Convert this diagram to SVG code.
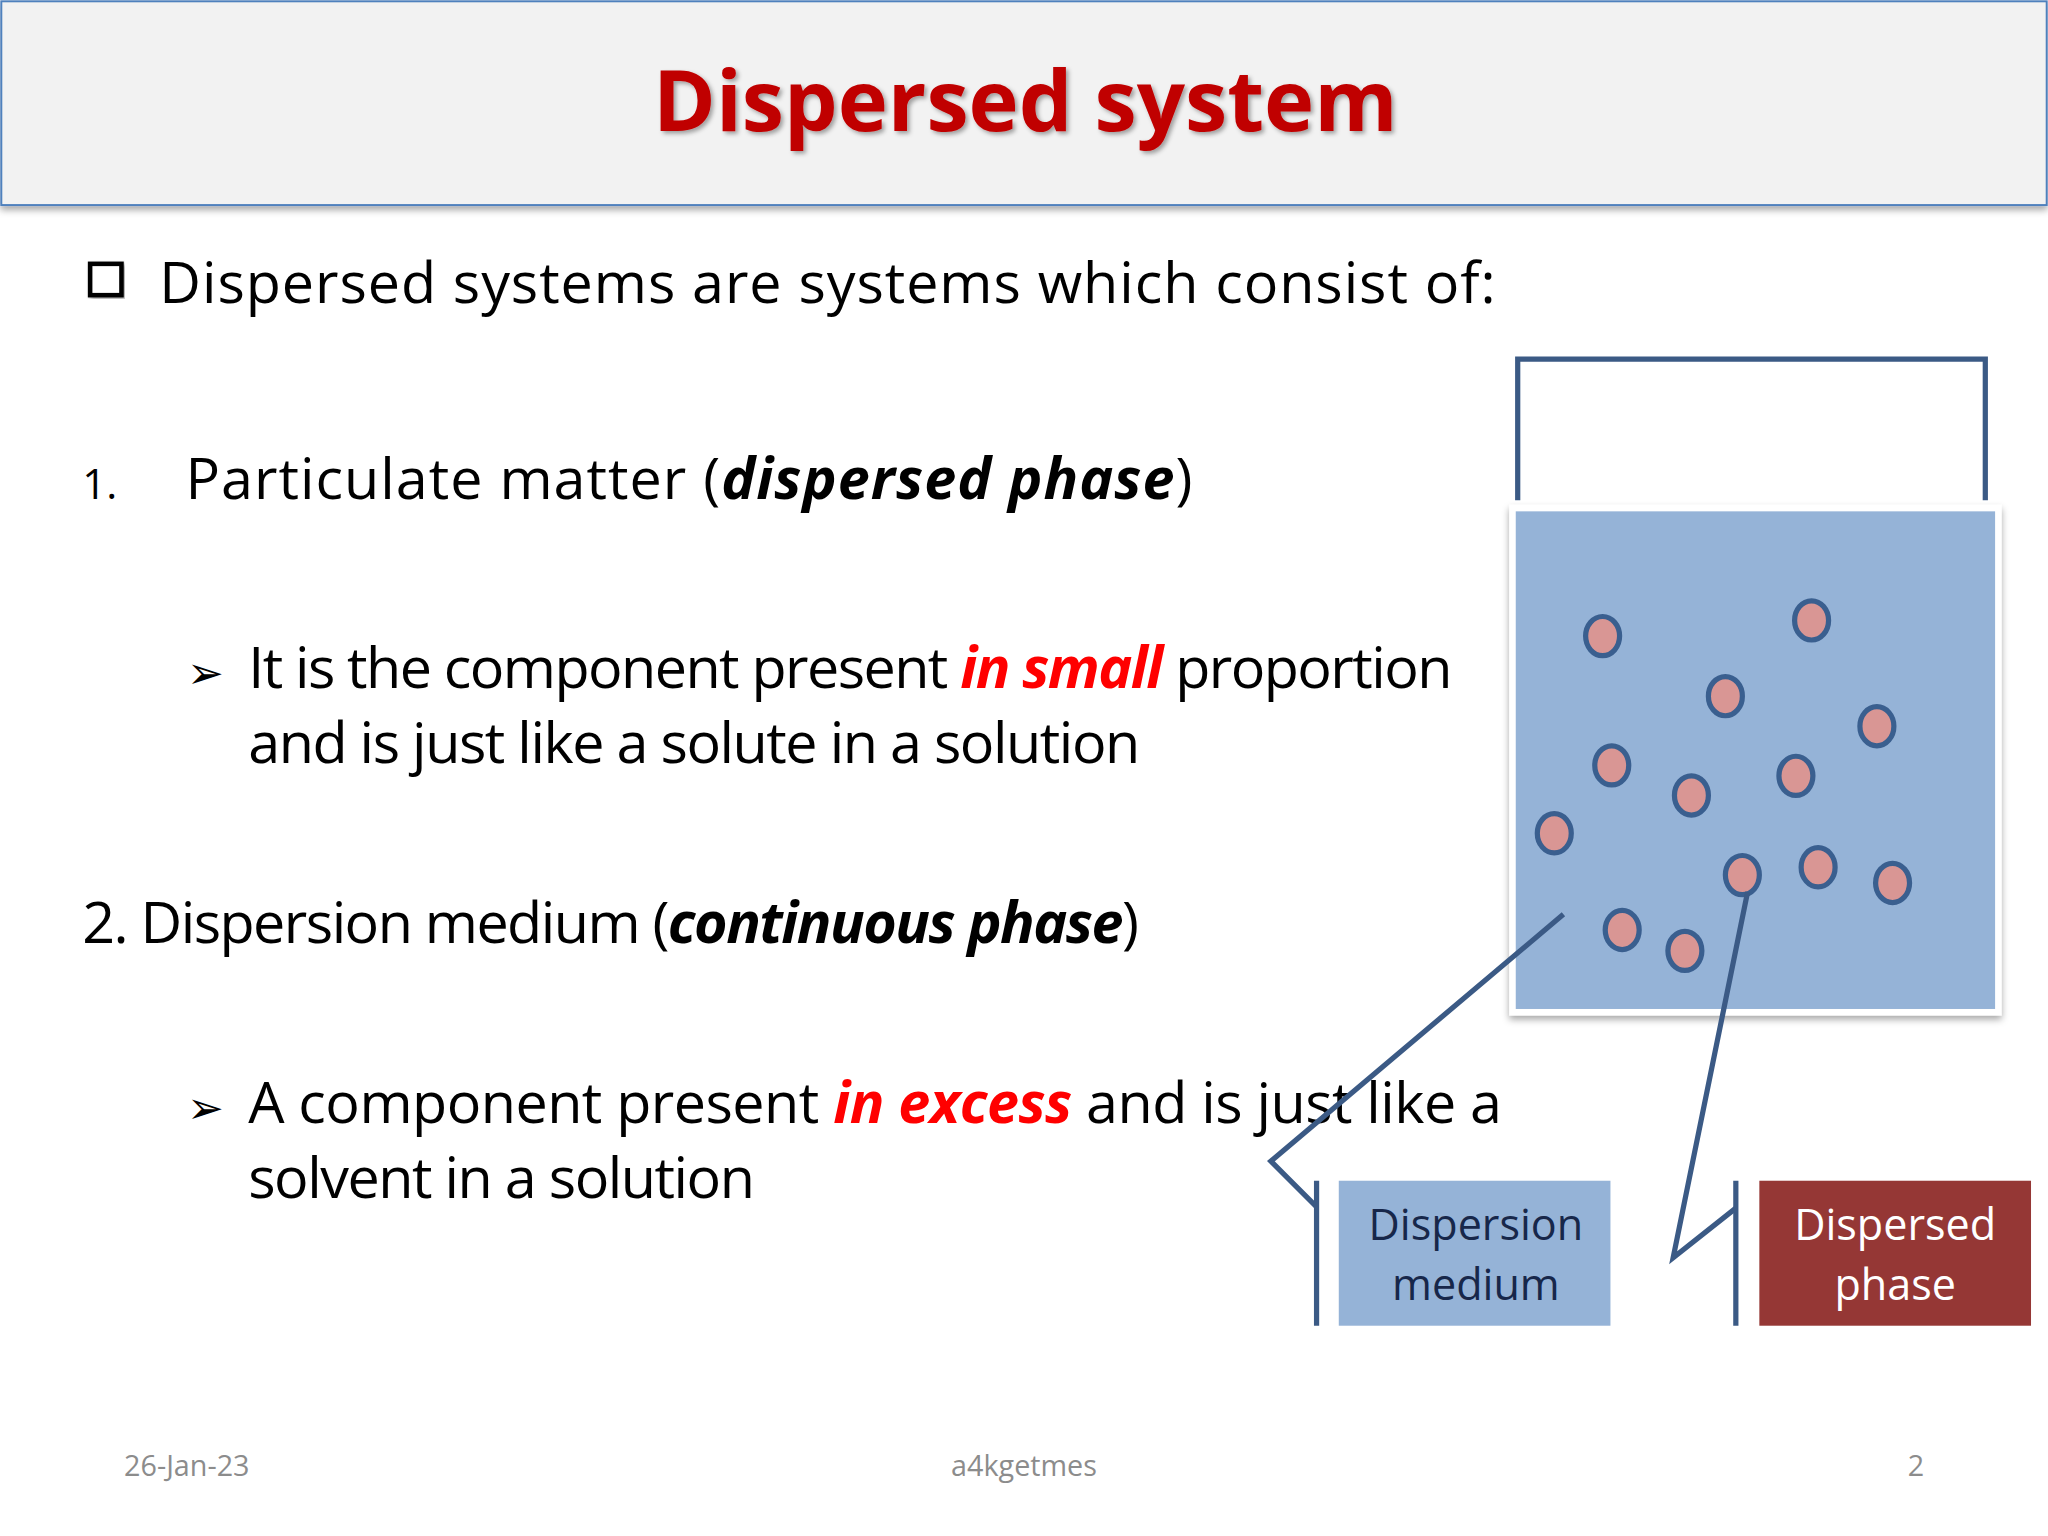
<svg xmlns="http://www.w3.org/2000/svg" width="2048" height="1536" viewBox="0 0 2048 1536">
<defs>
<style>
.t{font-family:"Open Sans","Noto Sans",sans-serif;font-size:44px;fill:#000}
.b{font-weight:bold;font-style:italic}
.r{fill:#ff0000}
.f{font-family:"Open Sans",sans-serif;font-size:22px;fill:#8c8c8c}
.p{fill:#d99694;stroke:#3a5f8f;stroke-width:4}
.ln{fill:none;stroke:#3b5a85;stroke-width:4}
.lb{font-family:"Open Sans",sans-serif;font-size:33px;text-anchor:middle}
</style>
<filter id="sh" x="-5%" y="-5%" width="110%" height="115%"><feDropShadow dx="0" dy="3" stdDeviation="3" flood-color="#000" flood-opacity="0.35"/></filter>
<filter id="ts"><feDropShadow dx="2" dy="2" stdDeviation="1.5" flood-color="#000" flood-opacity="0.35"/></filter>
</defs>
<rect width="2048" height="1536" fill="#fff"/>
<g transform="scale(1.30612)">
<g id="header">
<rect x="1" y="1" width="1566" height="156" fill="#f2f2f2" stroke="#4f81bd" stroke-width="1.5" filter="url(#sh)"/>
<text x="785" y="100" text-anchor="middle" font-family="'Open Sans',sans-serif" font-weight="bold" font-size="64" fill="#c00000" filter="url(#ts)" textLength="570" lengthAdjust="spacingAndGlyphs">Dispersed system</text>
</g>
<g id="text">
<rect x="69" y="202" width="24" height="24" fill="#fff" stroke="#000" stroke-width="3.5" filter="url(#ts)"/>
<text class="t" x="122" y="232" textLength="1023">Dispersed systems  are systems which consist of:</text>
<text class="t" x="63" y="382" style="font-size:32px">1.</text>
<text class="t" x="142" y="382" textLength="771">Particulate matter (<tspan class="b">dispersed phase</tspan>)</text>
<text class="t" x="143" y="527" style="font-size:34px">➢</text>
<text class="t" x="190" y="527" textLength="922">It is the component present <tspan class="b r">in small</tspan> proportion</text>
<text class="t" x="190" y="584" textLength="683">and is just like a solute in a solution</text>
<text class="t" x="63" y="722" textLength="809">2. Dispersion medium (<tspan class="b">continuous phase</tspan>)</text>
<text class="t" x="143" y="860" style="font-size:34px">➢</text>
<text class="t" x="190" y="860" textLength="960">A component present <tspan class="b r">in excess</tspan> and is just like a</text>
<text class="t" x="190" y="917" textLength="388">solvent in a solution</text>
</g>
<g id="beaker">
<polyline class="ln" points="1162,383 1162,275 1520,275 1520,383"/>
<rect x="1158" y="389" width="372" height="386" fill="#95b3d7" stroke="#fff" stroke-width="5" filter="url(#sh)"/>
<ellipse class="p" cx="1227" cy="487" rx="13" ry="15"/>
<ellipse class="p" cx="1387" cy="475" rx="13" ry="15"/>
<ellipse class="p" cx="1321" cy="533" rx="13" ry="15"/>
<ellipse class="p" cx="1437" cy="556" rx="13" ry="15"/>
<ellipse class="p" cx="1234" cy="586" rx="13" ry="15"/>
<ellipse class="p" cx="1295" cy="609" rx="13" ry="15"/>
<ellipse class="p" cx="1375" cy="594" rx="13" ry="15"/>
<ellipse class="p" cx="1190" cy="638" rx="13" ry="15"/>
<ellipse class="p" cx="1334" cy="670" rx="13" ry="15"/>
<ellipse class="p" cx="1392" cy="664" rx="13" ry="15"/>
<ellipse class="p" cx="1449" cy="676" rx="13" ry="15"/>
<ellipse class="p" cx="1242" cy="712" rx="13" ry="15"/>
<ellipse class="p" cx="1290" cy="728" rx="13" ry="15"/>
</g>
<g id="connectors">
<polyline class="ln" points="1197,700 973,889 1008,924"/>
<line class="ln" x1="1008" y1="904" x2="1008" y2="1015"/>
<polyline class="ln" points="1338,683 1281,963 1329,925"/>
<line class="ln" x1="1329" y1="904" x2="1329" y2="1015"/>
</g>
<g id="medium">
<rect x="1025" y="904" width="208" height="111" fill="#95b3d7"/>
<text class="lb" x="1130" y="949" fill="#17274a">Dispersion</text>
<text class="lb" x="1130" y="995" fill="#17274a">medium</text>
</g>
<g id="phase">
<rect x="1347" y="904" width="208" height="111" fill="#953735"/>
<text class="lb" x="1451" y="949" fill="#fff">Dispersed</text>
<text class="lb" x="1451" y="995" fill="#fff">phase</text>
</g>
<g id="footer">
<text class="f" x="95" y="1130">26-Jan-23</text>
<text class="f" x="784" y="1130" text-anchor="middle">a4kgetmes</text>
<text class="f" x="1467" y="1130" text-anchor="middle">2</text>
</g>
</g>
</svg>
